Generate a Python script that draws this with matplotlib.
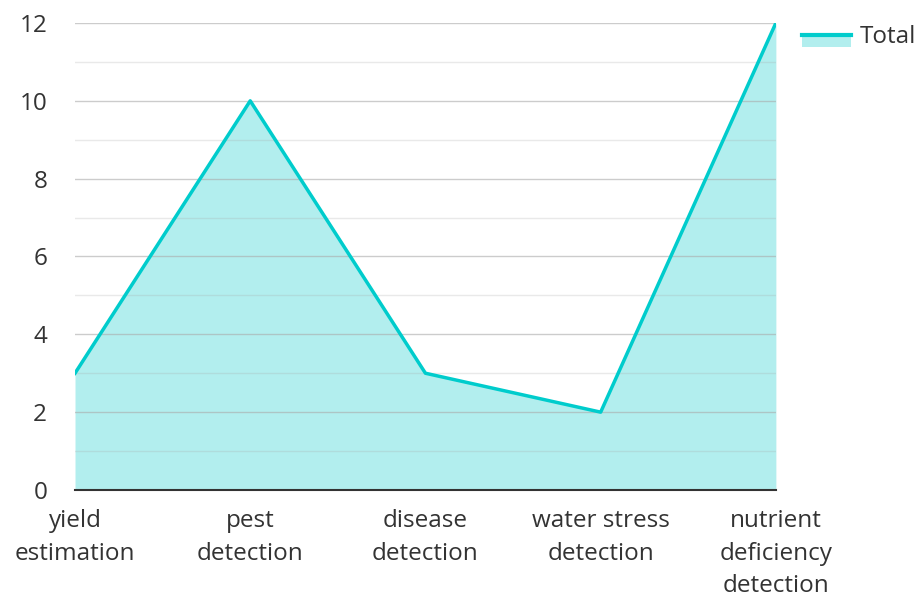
import matplotlib
matplotlib.use("Agg")
import matplotlib.pyplot as plt
from matplotlib.lines import Line2D
from matplotlib.patches import Rectangle
from matplotlib.legend_handler import HandlerBase

categories = ["yield\nestimation", "pest\ndetection", "disease\ndetection",
              "water stress\ndetection", "nutrient\ndeficiency\ndetection"]
totals = [3, 10, 3, 2, 12]

line_color = "#00cccc"
fill_color = "#b2eeee"

plt.rcParams["font.family"] = ["Open Sans", "DejaVu Sans"]


class AreaHandler(HandlerBase):
    # filled box with the line on its top edge
    def create_artists(self, legend, orig_handle, xdescent, ydescent,
                       width, height, fontsize, trans):
        top = height * 0.5
        bottom = -height * 0.2
        rect = Rectangle((-xdescent, bottom), width, top - bottom,
                         facecolor=fill_color, edgecolor="none", transform=trans)
        ln = Line2D([-xdescent, -xdescent + width], [top, top],
                    color=line_color, lw=3, transform=trans)
        return [rect, ln]


fig = plt.figure(figsize=(9.17, 5.94), dpi=100)
ax = fig.add_axes([0.0818, 0.1751, 0.7643, 0.7862])

x = list(range(len(totals)))
ax.fill_between(x, totals, 0, color=fill_color, lw=0, zorder=1)
ax.plot(x, totals, color=line_color, lw=2.5, zorder=3)

ax.set_xlim(0, len(totals) - 1)
ax.set_ylim(0, 12)
ax.set_yticks(range(0, 13, 2))
ax.set_yticks(range(1, 12, 2), minor=True)
ax.grid(axis="y", which="major", color="#aaaaaa", alpha=0.6, lw=1, zorder=2)
ax.grid(axis="y", which="minor", color="#aaaaaa", alpha=0.25, lw=1, zorder=2)
ax.set_axisbelow(False)

ax.set_xticks(x)
ax.set_xticklabels(categories, linespacing=1.45)
ax.tick_params(axis="both", length=0, labelsize=17.5, colors="#333333")
ax.tick_params(axis="x", pad=14)
ax.tick_params(axis="y", which="minor", length=0)
ax.tick_params(axis="y", pad=20)

for s in ["top", "right", "left"]:
    ax.spines[s].set_visible(False)
ax.spines["bottom"].set_color("#333333")
ax.spines["bottom"].set_linewidth(1.5)
ax.spines["bottom"].set_zorder(4)

leg = fig.legend(["area"], ["Total"], loc="center left",
                 bbox_to_anchor=(0.851, 0.937), frameon=False,
                 fontsize=17.5, handlelength=2.0, handleheight=0.7,
                 handletextpad=0.38,
                 handler_map={str: AreaHandler()},
                 labelcolor="#333333")

fig.savefig("out.png", dpi=100)
